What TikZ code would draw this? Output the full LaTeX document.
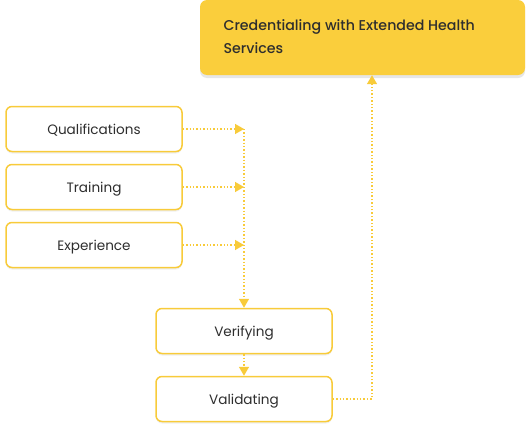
\documentclass[tikz,border=0pt]{standalone}
\usepackage{fontspec}
\setmainfont{Poppins}
\newfontfamily\popmed{Poppins Medium}
\usetikzlibrary{arrows.meta,shadows,calc}
\definecolor{ylw}{HTML}{F8CB3A}
\definecolor{ylwfill}{HTML}{FACE3C}
\definecolor{txt}{HTML}{2E2E2E}
\tikzset{
  box/.style={draw=ylw, line width=1.5pt, rounded corners=6pt, fill=white,
    minimum width=176pt, minimum height=45pt, inner sep=0pt,
    text height=14pt, text depth=3pt,
    font=\fontsize{13.6}{16}\selectfont, text=txt,
    drop shadow={opacity=0.12, shadow xshift=0pt, shadow yshift=-2pt}},
  topbox/.style={fill=ylwfill, rounded corners=7pt, minimum width=325pt, minimum height=75pt,
    inner sep=0pt, drop shadow={opacity=0.2, shadow xshift=0pt, shadow yshift=-3pt}},
  conn/.style={draw=ylw, line width=1.4pt, dotted, -{Triangle[length=9pt,width=10pt,fill=ylw]}}
}
\begin{document}
\begin{tikzpicture}[x=1pt,y=-1pt]
\useasboundingbox (0,0) rectangle (529,431);
\node[topbox] (top) at (362.5,37.5) {};
\node[anchor=west, text=txt, font=\popmed\fontsize{14.2}{23}\selectfont, align=left] (toptext) at (220,37) {Credentialing with Extended Health\\Services};
\node[box] (qual) at (94,129) {Qualifications};
\node[box] (train) at (94,187) {Training};
\node[box] (exp) at (94,245) {Experience};
\node[box] (ver) at (244,331) {Verifying};
\node[box] (val) at (244,399) {Validating};
\coordinate (jq) at (ver.north |- qual.east);
\coordinate (jt) at (ver.north |- train.east);
\coordinate (je) at (ver.north |- exp.east);
\coordinate (tj) at (372,399);
\draw[conn] (qual.east) -- (jq);
\draw[conn] (train.east) -- (jt);
\draw[conn] (exp.east) -- (je);
\draw[conn] (jq) -- (ver.north);
\draw[conn] (ver.south) -- (val.north);
\draw[conn] (val.east) -- (tj) -- (tj |- top.south);
\end{tikzpicture}
\end{document}
